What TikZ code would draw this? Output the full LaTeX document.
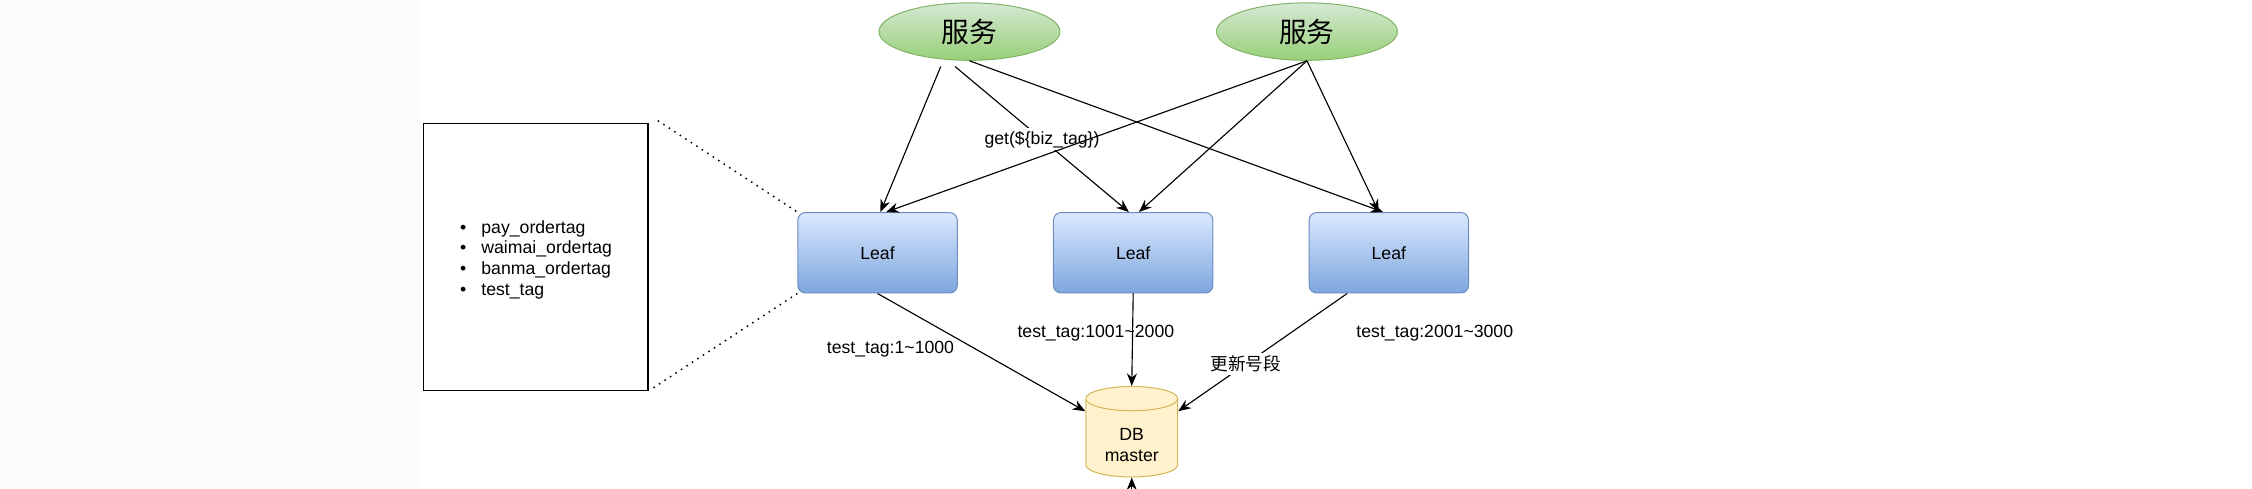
\documentclass[tikz,border=0pt]{standalone}
\usepackage{fontspec}
\setmainfont{Liberation Sans}
\newfontfamily\cjk{Noto Sans CJK SC}
\usetikzlibrary{shapes.geometric,arrows.meta}
\definecolor{svcB}{RGB}{130,179,102}
\definecolor{svcT}{RGB}{213,232,212}
\definecolor{svcD}{RGB}{151,208,119}
\begin{document}
\begin{tikzpicture}[x=0.02cm,y=-0.02cm,
  svc/.style={ellipse,draw=svcB,top color=svcT,bottom color=svcD,minimum width=126*0.02cm,minimum height=40*0.02cm,font=\cjk\fontsize{11}{12}\selectfont,inner sep=0},
  leaf/.style={rectangle,rounded corners=3pt,draw={rgb,255:red,108;green,142;blue,191},top color={rgb,255:red,218;green,232;blue,252},bottom color={rgb,255:red,126;green,166;blue,224},minimum width=111*0.02cm,minimum height=56*0.02cm,font=\fontsize{7}{8}\selectfont},
  db/.style={cylinder,shape border rotate=90,aspect=0.45,draw={rgb,255:red,214;green,182;blue,86},fill={rgb,255:red,255;green,242;blue,204},minimum width=64*0.02cm,minimum height=63*0.02cm,font=\fontsize{7}{8.5}\selectfont,align=center,inner sep=0},
  arr/.style={-{Stealth[length=5pt,width=4pt]},line width=0.45pt},
  lbl/.style={font=\fontsize{7}{8}\selectfont,fill=white,inner sep=1pt},
  cl/.style={font=\cjk\fontsize{7}{8}\selectfont,fill=white,inner sep=1pt}]
\useasboundingbox (0,0) rectangle (1568,340);
\fill[black!1.5] (0,0) rectangle (293,340);
\node[svc] (s1) at (675,22) {服务};
\node[svc] (s2) at (910,22) {服务};
\node[leaf] (l1) at (611,176) {Leaf};
\node[leaf] (l2) at (789,176) {Leaf};
\node[leaf] (l3) at (967,176) {Leaf};
\node[db] (db) at (788,305) {\\[2pt]DB\\master};
\node[draw,line width=0.6pt,minimum width=156*0.02cm,minimum height=186*0.02cm] (box) at (373,179) {};
\node[anchor=north west,font=\fontsize{7}{8.2}\selectfont,align=left,inner sep=0] (items) at (320,153)
 {\textbullet\hspace{6pt}pay\_ordertag\\ \textbullet\hspace{6pt}waimai\_ordertag\\ \textbullet\hspace{6pt}banma\_ordertag\\ \textbullet\hspace{6pt}test\_tag};
\coordinate (d1) at (458,84);
\coordinate (d2) at (455,270);
\draw[dotted,line width=0.6pt] (d1) -- (l1.north west);
\draw[dotted,line width=0.6pt] (d2) -- (l1.south west);
\draw[arr] ([xshift=-20*0.02cm,yshift=-4*0.02cm]s1.south) -- ([xshift=2*0.02cm]l1.north);
\draw[arr] ([xshift=-10*0.02cm,yshift=-4*0.02cm]s1.south) -- node[lbl,pos=0.5]{get(\$\{biz\_tag\})} ([xshift=-3*0.02cm]l2.north);
\draw[arr] (s1.south) -- ([xshift=-4*0.02cm]l3.north);
\draw[arr] (s2.south) -- ([xshift=6*0.02cm]l1.north);
\draw[arr] (s2.south) -- ([xshift=4*0.02cm]l2.north);
\draw[arr] (s2.south) -- ([xshift=-7*0.02cm]l3.north);
\draw[arr] (l1.south) -- (db.150);
\node[font=\fontsize{7}{8}\selectfont] (t1) at (620,243) {test\_tag:1\textasciitilde1000};
\draw[arr] (l2.south) -- (db.north);
\node[font=\fontsize{7}{8}\selectfont] (t2) at (763,232) {test\_tag:1001\textasciitilde2000};
\draw[arr] ([xshift=-29*0.02cm]l3.south) -- node[cl,pos=0.6]{更新号段} (db.30);
\node[font=\fontsize{7}{8}\selectfont] (t3) at (999,232) {test\_tag:2001\textasciitilde3000};
\coordinate (bot) at (788,345);
\draw[{Stealth[length=5pt,width=4pt]}-,line width=0.45pt] (db.south) -- (bot);
\end{tikzpicture}
\end{document}
